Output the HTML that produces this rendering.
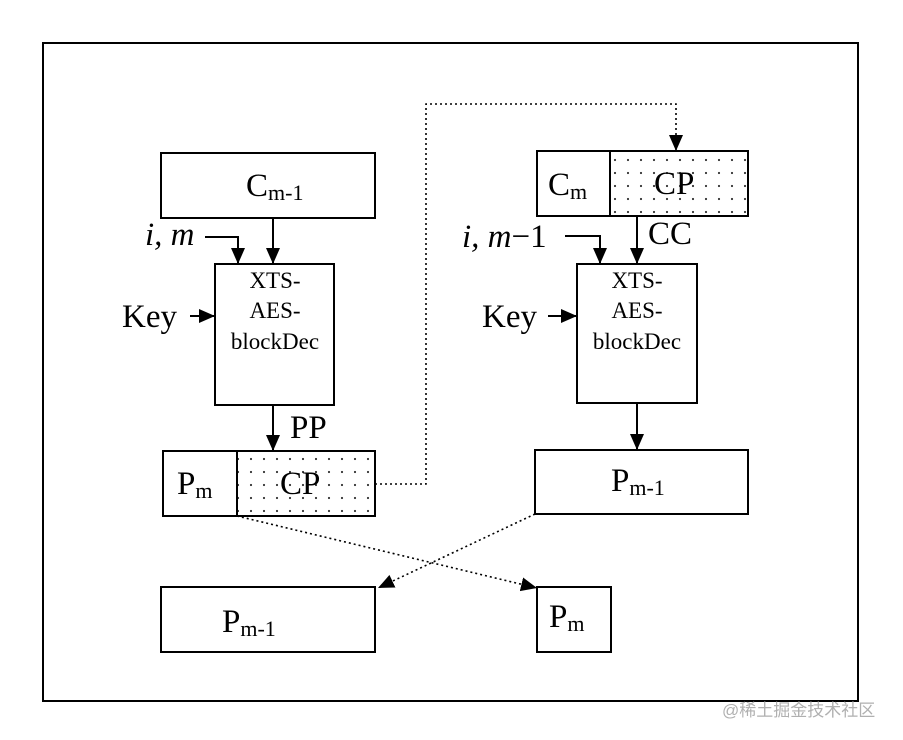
<!DOCTYPE html>
<html><head><meta charset="utf-8"><style>
html,body{margin:0;padding:0;background:#fff;width:903px;height:740px;overflow:hidden}
svg{display:block}
text{font-family:"Liberation Serif",serif;fill:#000}
</style></head><body>
<svg width="903" height="740" viewBox="0 0 903 740" xmlns="http://www.w3.org/2000/svg">
<defs>
<pattern id="dots" width="13" height="13" patternUnits="userSpaceOnUse"><circle cx="4" cy="4" r="1.1" fill="#333"/></pattern>
<marker id="ah" markerWidth="16" markerHeight="16" refX="16" refY="8" orient="auto" markerUnits="userSpaceOnUse"><path d="M0,1 L16,8 L0,15 z" fill="#000"/></marker>
</defs>
<rect x="43" y="43" width="815" height="658" fill="none" stroke="#000" stroke-width="2"/>
<g stroke="#000" stroke-width="2" fill="none">
<rect x="161" y="153" width="214" height="65"/>
<rect x="215" y="264" width="119" height="141"/>
<rect x="237" y="451" width="138" height="65" fill="url(#dots)"/>
<rect x="163" y="451" width="74" height="65"/>
<line x1="273" y1="218" x2="273" y2="264" marker-end="url(#ah)"/>
<polyline points="205,237 238,237 238,264" marker-end="url(#ah)"/>
<line x1="190" y1="316" x2="215" y2="316" marker-end="url(#ah)"/>
<line x1="273" y1="405" x2="273" y2="451" marker-end="url(#ah)"/>
<rect x="610" y="151" width="138" height="65" fill="url(#dots)"/>
<rect x="537" y="151" width="73" height="65"/>
<rect x="577" y="264" width="120" height="139"/>
<rect x="535" y="450" width="213" height="64"/>
<line x1="637" y1="216" x2="637" y2="264" marker-end="url(#ah)"/>
<polyline points="565,236 600,236 600,264" marker-end="url(#ah)"/>
<line x1="548" y1="316" x2="577" y2="316" marker-end="url(#ah)"/>
<line x1="637" y1="403" x2="637" y2="450" marker-end="url(#ah)"/>
<rect x="161" y="587" width="214" height="65"/>
<rect x="537" y="587" width="74" height="65"/>
</g>
<g stroke="#000" stroke-width="1.6" fill="none" stroke-dasharray="2,3">
<polyline points="375,484 426,484 426,104 676,104 676,151" marker-end="url(#ah)"/>
<line x1="237" y1="516" x2="537" y2="588" marker-end="url(#ah)"/>
<line x1="535" y1="514" x2="378" y2="588" marker-end="url(#ah)"/>
</g>
<g font-size="33">
<text x="246" y="196">C<tspan font-size="22" dy="4">m-1</tspan></text>
<text x="177" y="494">P<tspan font-size="22" dy="4">m</tspan></text>
<text x="280" y="494">CP</text>
<text x="548" y="195">C<tspan font-size="22" dy="4">m</tspan></text>
<text x="654" y="194">CP</text>
<text x="611" y="491">P<tspan font-size="22" dy="4">m-1</tspan></text>
<text x="222" y="632">P<tspan font-size="22" dy="4">m-1</tspan></text>
<text x="549" y="627">P<tspan font-size="22" dy="4">m</tspan></text>
<text x="122" y="327">Key</text>
<text x="482" y="327">Key</text>
<text x="290" y="438">PP</text>
<text x="648" y="244">CC</text>
<text x="145" y="245" font-style="italic">i, m</text>
<text x="462" y="247" font-style="italic">i, m<tspan font-style="normal">−1</tspan></text>
</g>
<g font-size="23" text-anchor="middle">
<text x="275" y="288">XTS-</text>
<text x="275" y="318">AES-</text>
<text x="275" y="349">blockDec</text>
<text x="637" y="288">XTS-</text>
<text x="637" y="318">AES-</text>
<text x="637" y="349">blockDec</text>
</g>
<text x="722" y="716" font-size="17" style="font-family:'Liberation Sans','Noto Sans CJK SC',sans-serif;fill:#b0b0b0">@稀土掘金技术社区</text>
</svg>
</body></html>
